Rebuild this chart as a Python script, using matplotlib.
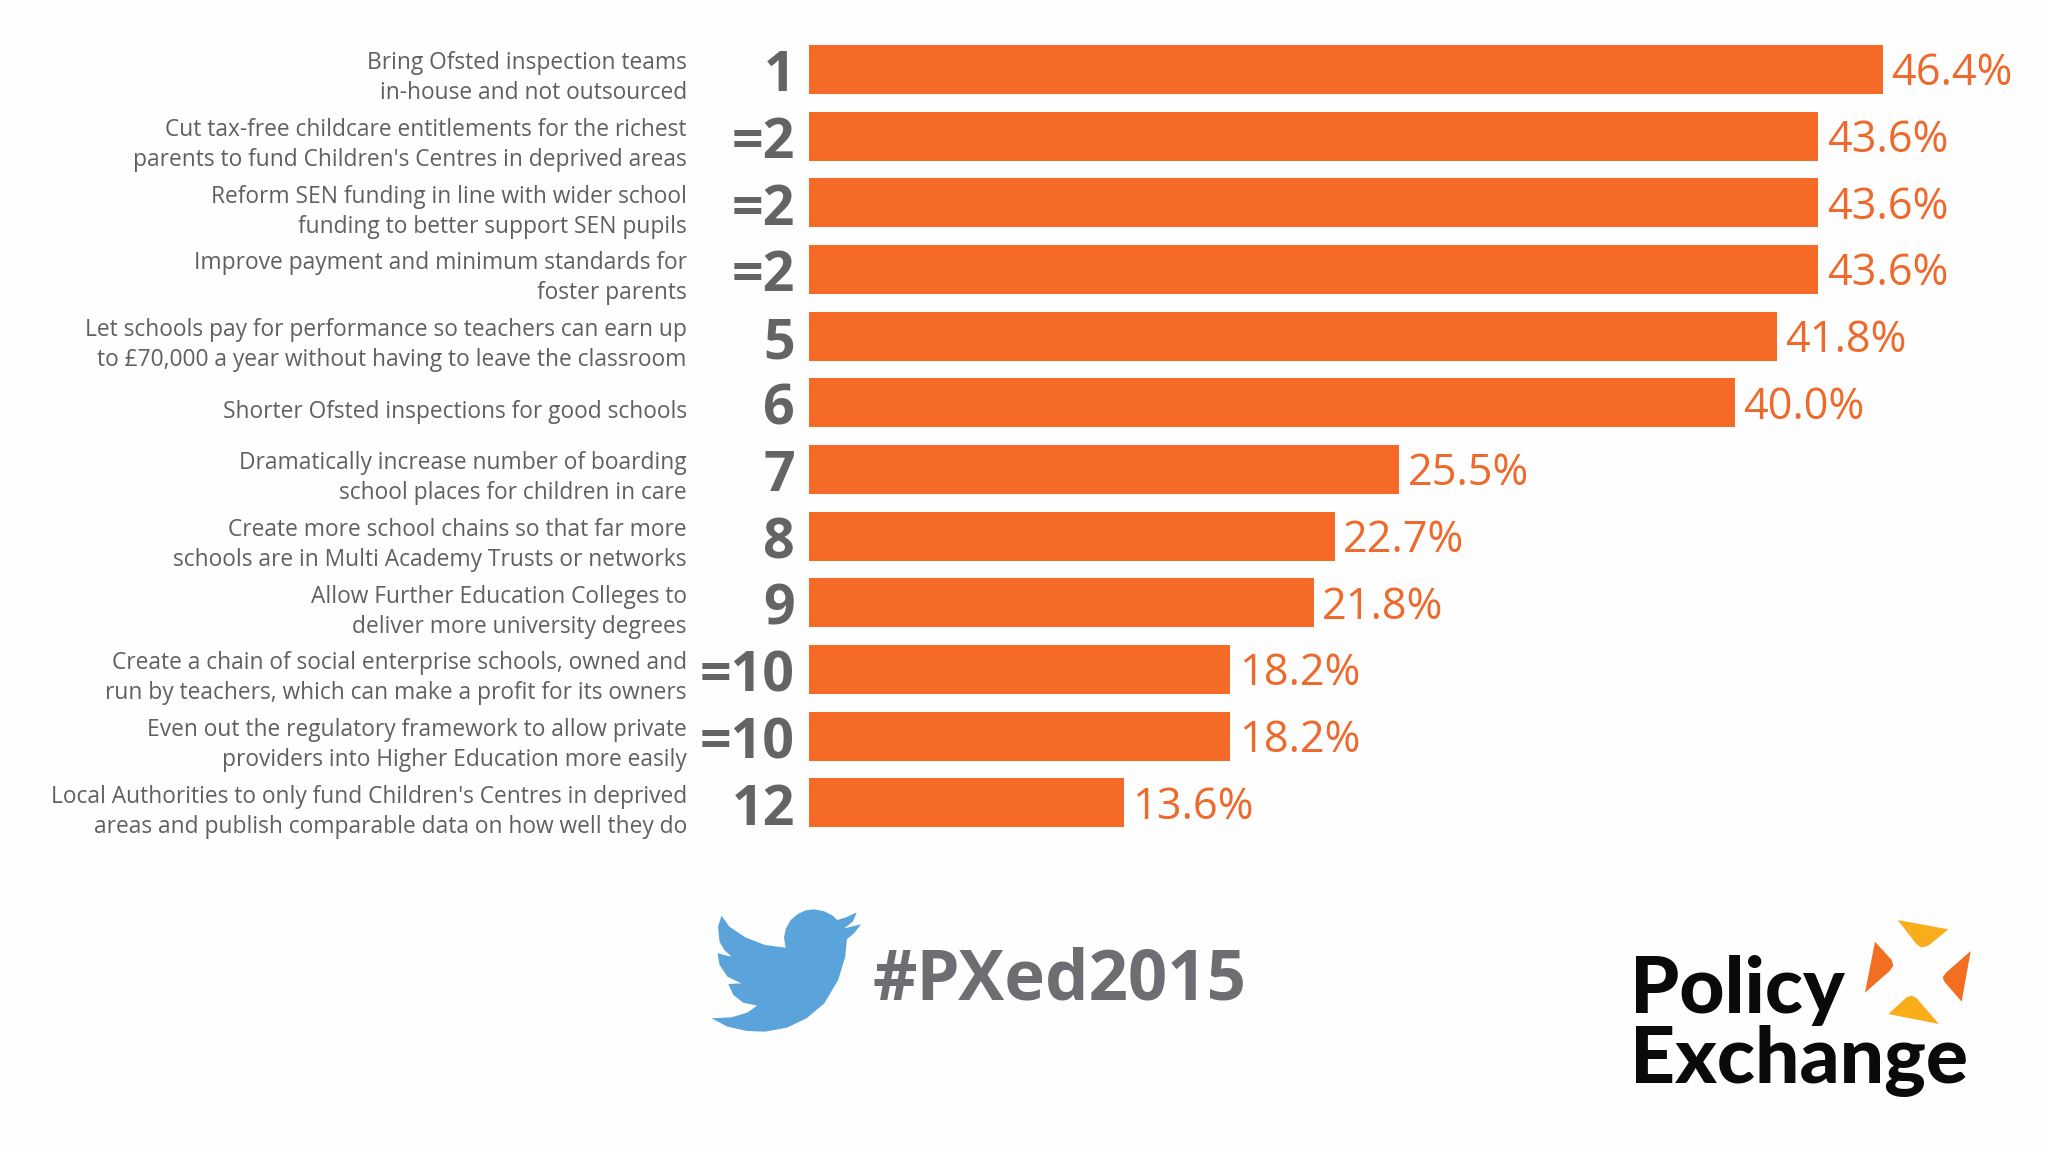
import matplotlib
matplotlib.use('Agg')
import matplotlib.pyplot as plt
from matplotlib.patches import Polygon

# Data
labels = [
    "Bring Ofsted inspection teams\nin-house and not outsourced",
    "Cut tax-free childcare entitlements for the richest\nparents to fund Children's Centres in deprived areas",
    "Reform SEN funding in line with wider school\nfunding to better support SEN pupils",
    "Improve payment and minimum standards for\nfoster parents",
    "Let schools pay for performance so teachers can earn up\nto £70,000 a year without having to leave the classroom",
    "Shorter Ofsted inspections for good schools",
    "Dramatically increase number of boarding\nschool places for children in care",
    "Create more school chains so that far more\nschools are in Multi Academy Trusts or networks",
    "Allow Further Education Colleges to\ndeliver more university degrees",
    "Create a chain of social enterprise schools, owned and\nrun by teachers, which can make a profit for its owners",
    "Even out the regulatory framework to allow private\nproviders into Higher Education more easily",
    "Local Authorities to only fund Children's Centres in deprived\nareas and publish comparable data on how well they do",
]
ranks = ['1', '=2', '=2', '=2', '5', '6', '7', '8', '9', '=10', '=10', '12']
values = [46.4, 43.6, 43.6, 43.6, 41.8, 40.0, 25.5, 22.7, 21.8, 18.2, 18.2, 13.6]

ORANGE = '#F66A28'
VALUE_ORANGE = '#EE6A2C'
GREY = '#5F6062'
RANK_GREY = '#636466'

plt.rcParams['font.family'] = ['Open Sans', 'DejaVu Sans']

fig = plt.figure(figsize=(20.48, 11.52), dpi=100, facecolor='#FEFEFE')

# Bars
ax = fig.add_axes([809 / 2048, 1 - 836 / 1152, 1239 / 2048, 800 / 1152])
ax.barh(range(len(values)), values, height=0.735, color=ORANGE)
ax.set_xlim(0, 1239 / 23.15)
ax.set_ylim(11.5, -0.5)
ax.axis('off')

for i, v in enumerate(values):
    ax.annotate(f'{v:.1f}%', (v, i), xytext=(6, -3.5), textcoords='offset points',
                ha='left', va='center', fontsize=31.2, color=VALUE_ORANGE)
    ax.annotate(ranks[i], (0, i), xytext=(-10, -5.5), textcoords='offset points',
                ha='right', va='center', fontsize=40, fontweight='bold', color=RANK_GREY)
    ax.annotate(labels[i], (0, i), xytext=(-88, -6.5), textcoords='offset points',
                ha='right', va='center', fontsize=16.4, color=GREY, linespacing=1.33)

# Footer drawn in pixel coordinates
bg = fig.add_axes([0, 0, 1, 1], zorder=-1)
bg.set_xlim(0, 2048)
bg.set_ylim(1152, 0)
bg.axis('off')

bird = [(447, 97), (420, 112), (398, 120), (385, 106), (365, 94), (340, 88), (318, 91), (298, 102),
        (280, 120), (268, 145), (263, 172), (267, 203), (215, 195), (165, 172), (125, 140),
        (105, 107), (96, 140), (100, 185), (112, 210), (130, 230), (95, 220), (100, 255),
        (120, 290), (155, 310), (122, 312), (135, 345), (160, 368), (195, 377), (170, 398),
        (130, 412), (80, 415), (120, 440), (170, 453), (215, 455), (270, 443), (320, 415),
        (365, 370), (400, 300), (418, 230), (422, 178), (440, 160), (458, 133), (415, 145),
        (437, 125)]
bg.add_patch(Polygon([(680 + x / 2.529, 880 + y / 3) for x, y in bird], closed=True,
                     facecolor='#5BA4DB', edgecolor='none'))
bg.text(873, 1000, '#PXed2015', fontsize=49.6, fontweight='bold', color='#6D6E71',
        ha='left', va='baseline')

# Policy Exchange logo
shards = [
    ([(893, 60), (1045, 88), (985, 137), (965, 143), (950, 133)], '#F9AD1B'),
    ([(825, 125), (875, 180), (880, 197), (870, 212), (795, 278)], '#F26E21'),
    ([(1112, 153), (1085, 305), (1033, 245), (1028, 232), (1038, 218)], '#F26E21'),
    ([(865, 342), (920, 292), (935, 287), (950, 295), (1017, 372)], '#F9AD1B'),
]
for pts, col in shards:
    bg.add_patch(Polygon([(1600 + x / 3, 900 + y / 3) for x, y in pts], closed=True,
                         facecolor=col, edgecolor='none'))
bg.text(1630, 1013, 'Policy', fontsize=56.5, fontweight='black', color='#0A0A0A',
        family='Lato', ha='left', va='baseline')
bg.text(1630, 1083, 'Exchange', fontsize=56.5, fontweight='black', color='#0A0A0A',
        family='Lato', ha='left', va='baseline')

fig.savefig('out.png', dpi=100)
